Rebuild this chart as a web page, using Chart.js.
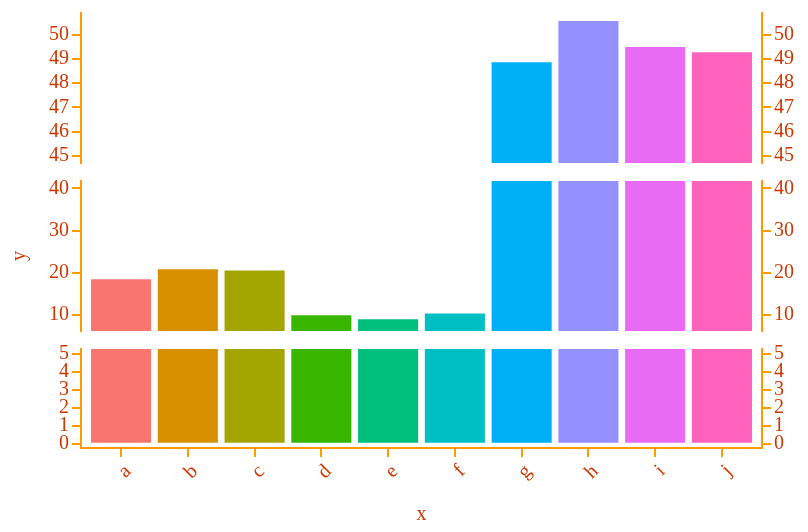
<!DOCTYPE html>
<html>
<head>
<meta charset="utf-8">
<script src="https://cdn.jsdelivr.net/npm/chart.js@4.4.1/dist/chart.umd.min.js"></script>
<style>
  body { margin: 0; background: #fff; }
  #wrap { position: relative; width: 808px; height: 532px; overflow: hidden; }
  canvas { position: absolute; left: 0; }
</style>
</head>
<body>
<div id="wrap">
  <canvas id="top" width="808" height="182" style="top:-3px"></canvas>
  <canvas id="mid" width="808" height="182" style="top:165px"></canvas>
  <canvas id="bot" width="808" height="199" style="top:333px"></canvas>
</div>
<script>
const categories = ['a', 'b', 'c', 'd', 'e', 'f', 'g', 'h', 'i', 'j']
const values = [18.5, 20.9, 20.6, 10.0, 9.05, 10.4, 48.86, 50.57, 49.49, 49.28]
const barColors = ['#F8766D', '#D89000', '#A3A500', '#39B600', '#00BF7D',
                   '#00BFC4', '#00B0F6', '#9590FF', '#E76BF3', '#FF62BC']
// the three pieces of the broken y axis, top to bottom
const topRange = [44.7, 50.9]
const midRange = [6.26, 41.76]
const botRange = [-0.24, 5.28]
const topStep = 1
const midStep = 10
const botStep = 1

const textColor = '#CD3700'
const axisColor = '#FF9A00'
Chart.defaults.font.family = "'Liberation Serif', 'Times New Roman', serif"
Chart.defaults.font.size = 20
Chart.defaults.color = textColor

function yAxis(range, step, side, title) {
    return {
        position: side,
        min: range[0],
        max: range[1],
        afterFit: (scale) => { scale.width = side == 'left' ? 73 : 46 },
        border: { display: true, color: axisColor, width: 2 },
        grid: { drawOnChartArea: false, drawTicks: true, tickLength: 9, color: axisColor, lineWidth: 2 },
        ticks: { stepSize: step, includeBounds: false, autoSkip: false, padding: 3, color: textColor },
        title: title ? { display: true, text: title, color: textColor, font: { size: 20 }, padding: 0 } : { display: false }
    }
}

function makePanel(id, range, step, withX, yTitle) {
    const xAxis = {
        type: 'linear',
        min: -0.6,
        max: 9.6,
        offset: false,
        display: withX,
        grid: { offset: false, drawOnChartArea: false, drawTicks: true, tickLength: 9, color: axisColor, lineWidth: 2 },
        border: { display: true, color: axisColor, width: 2 },
        ticks: {
            stepSize: 1, includeBounds: false, autoSkip: false,
            minRotation: 45, maxRotation: 45, labelOffset: 7, padding: 3,
            callback: (v) => categories[v]
        },
        title: { display: true, text: 'x', color: textColor, font: { size: 20 }, padding: 0 }
    }
    if (withX) xAxis.afterFit = (scale) => { scale.height = 79 }
    return new Chart(document.getElementById(id), {
        type: 'bar',
        data: {
            datasets: [{
                data: values.map((v, i) => ({ x: i, y: v })),
                backgroundColor: barColors,
                borderWidth: 0,
                barPercentage: 0.9,
                categoryPercentage: 1,
                clip: 0
            }]
        },
        options: {
            responsive: false,
            animation: false,
            devicePixelRatio: 1,
            layout: { padding: { left: 8, right: 0, top: 16, bottom: withX ? 5 : 16 } },
            plugins: { legend: { display: false }, tooltip: { enabled: false } },
            scales: {
                x: xAxis,
                y: yAxis(range, step, 'left', yTitle),
                y2: yAxis(range, step, 'right', null)
            }
        }
    })
}

makePanel('top', topRange, topStep, false, null)
makePanel('mid', midRange, midStep, false, 'y')
makePanel('bot', botRange, botStep, true, null)
</script>
</body>
</html>
